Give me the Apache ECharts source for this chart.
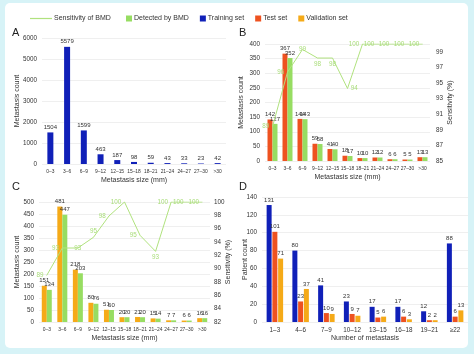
<!DOCTYPE html>
<html><head><meta charset="utf-8">
<script src="https://cdn.jsdelivr.net/npm/echarts@6/dist/echarts.min.js"></script>
<style>
html,body{margin:0;padding:0;background:#d7f3f7;}
#bg{position:absolute;left:5px;top:3px;width:463px;height:345px;background:#fff;border-radius:5px;}
#c{position:absolute;left:0;top:0;width:474px;height:354px;}
</style></head>
<body><div id="bg"></div><div id="c"></div>
<script>
// ---- data ----
const sizeCats = ['0–3','3–6','6–9','9–12','12–15','15–18','18–21','21–24','24–27','27–30','>30'];
const trainA = [1504,5579,1599,463,187,98,59,43,33,23,42];
const testB = [142,367,144,59,41,18,10,12,6,5,13];
const detB = [127,352,143,58,40,17,10,12,6,5,13];
const sensB = [89.4,96.4,99.3,98.2,98.2,94.3,100,100,100,100,100];
const valC = [151,481,218,80,51,20,21,15,7,6,16];
const detC = [134,447,203,76,50,20,20,14,7,6,16];
const sensC = [89,93.1,93.1,94.7,97.9,100,95,92.6,100,100,100];
const numCats = ['1–3','4–6','7–9','10–12','13–15','16–18','19–21','≥22'];
const trainD = [131,80,41,23,17,17,12,88];
const testD = [101,23,10,9,5,6,2,6];
const valD = [71,37,9,7,6,3,2,13];

// ---- styles ----
const FONT = 'Liberation Sans, Arial, sans-serif';
const BLUE = '#1020b8', RED = '#ee5220', ORANGE = '#f5aa18', GREEN = '#97dd62', LINE = '#b0e27e';
const txt = '#333';
const posB = ['left','left','inside','bottom','bottom','right','left','left','left','left','left'];
const posC = ['left','left','inside','top','left','left','left','bottom','left','left','left'];

const chart = echarts.init(document.getElementById('c'), null, {renderer:'canvas'});

function xAx(grid, data, name, fs){
  return {type:'category', gridIndex:grid, data:data, name:name, nameLocation:'middle', nameGap:13,
    nameMoveOverlap:false,
    nameTextStyle:{fontSize:7, color:txt, fontFamily:FONT},
    axisLine:{show:false}, axisTick:{show:false},
    axisLabel:{fontSize:fs, color:txt, fontFamily:FONT, margin:5, interval:0, hideOverlap:false}};
}
function yAx(grid, min, max, interval, name, gap, extra){
  return Object.assign({type:'value', gridIndex:grid, min:min, max:max, interval:interval, name:name,
    nameLocation:'middle', nameGap:gap, nameMoveOverlap:false,
    nameTextStyle:{fontSize:7, color:txt, fontFamily:FONT},
    axisLine:{show:false}, axisTick:{show:false},
    axisLabel:{fontSize:6.3, color:txt, fontFamily:FONT, margin:5, formatter:v=>String(v)},
    splitLine:{lineStyle:{color:'#ebebeb', width:0.8}}}, extra||{});
}
function barLabel(){ return {show:true, position:'top', fontSize:6, color:txt, fontFamily:FONT, distance:2}; }
function sensData(vals, pos){
  return vals.map((v,i)=>({value:v, label:{show:true, position:pos[i]}}));
}
function sensSeries(xi, yi, vals, pos){
  return {name:'Sensitivity of BMD', type:'line', xAxisIndex:xi, yAxisIndex:yi, data:sensData(vals,pos),
    symbol:'circle', symbolSize:0.5, showSymbol:true, lineStyle:{color:LINE, width:1},
    itemStyle:{color:LINE}, z:5,
    label:{show:true, fontSize:6.3, color:'#a8dc78', distance:3, fontFamily:FONT,
      formatter:p=>Math.round(p.value)}};
}

const option = {
  animation:false,
  textStyle:{fontFamily:FONT},
  legend:[
    {data:['Sensitivity of BMD'], left:30, top:15, padding:0, icon:'rect', itemWidth:22, itemHeight:1.2,
     textStyle:{fontSize:7, color:txt, fontFamily:FONT, padding:[0,0,0,-3]}},
    {data:['Detected by BMD','Training set','Test set','Validation set'], left:126, top:15, padding:0, icon:'rect',
     itemWidth:6, itemHeight:6, itemGap:11, textStyle:{fontSize:7, color:txt, fontFamily:FONT, padding:[0,0,0,-3]}}
  ],
  graphic:[
    {type:'text', left:12, top:27, style:{text:'A', fontSize:11, fill:'#222', fontFamily:FONT}},
    {type:'text', left:239, top:27, style:{text:'B', fontSize:11, fill:'#222', fontFamily:FONT}},
    {type:'text', left:12, top:181, style:{text:'C', fontSize:11, fill:'#222', fontFamily:FONT}},
    {type:'text', left:239, top:181, style:{text:'D', fontSize:11, fill:'#222', fontFamily:FONT}}
  ],
  grid:[
    {left:42, right:248, top:38, bottom:190},
    {left:265, right:44, top:44, bottom:193},
    {left:39, right:264, top:202, bottom:32},
    {left:262, right:6, top:197, bottom:32}
  ],
  xAxis:[
    xAx(0, sizeCats, 'Metastasis size (mm)', 4.9),
    xAx(1, sizeCats, 'Metastasis size (mm)', 4.9),
    xAx(2, sizeCats, 'Metastasis size (mm)', 4.9),
    xAx(3, numCats, 'Number of metastasis', 6.3)
  ],
  yAxis:[
    yAx(0, 0, 6000, 1000, 'Metastasis count', 21.5),
    yAx(1, 0, 400, 50, 'Metastasis count', 20.5),
    yAx(1, 85, 100, 2, 'Sensitivity (%)', 16.5, {position:'right', splitLine:{show:false},
        axisLabel:{fontSize:6.3, color:txt, fontFamily:FONT, margin:6, showMaxLabel:false}}),
    yAx(2, 0, 500, 50, 'Metastasis count', 18.5),
    yAx(2, 82, 100, 2, 'Sensitivity (%)', 15, {position:'right', splitLine:{show:false},
        axisLabel:{fontSize:6.3, color:txt, fontFamily:FONT, margin:4}}),
    yAx(3, 0, 140, 20, 'Patient count', 13.5)
  ],
  series:[
    {name:'Training set', type:'bar', xAxisIndex:0, yAxisIndex:0, data:trainA, barWidth:6,
     itemStyle:{color:BLUE}, label:barLabel()},
    {name:'Test set', type:'bar', xAxisIndex:1, yAxisIndex:1, data:testB, barWidth:5, barGap:'0%',
     itemStyle:{color:RED}, label:barLabel()},
    {name:'Detected by BMD', type:'bar', xAxisIndex:1, yAxisIndex:1, data:detB, barWidth:5, barGap:'0%',
     itemStyle:{color:GREEN}, label:barLabel()},
    sensSeries(1, 2, sensB, posB),
    {name:'Validation set', type:'bar', xAxisIndex:2, yAxisIndex:3, data:valC, barWidth:5, barGap:'0%',
     itemStyle:{color:ORANGE}, label:barLabel()},
    {name:'Detected by BMD', type:'bar', xAxisIndex:2, yAxisIndex:3, data:detC, barWidth:5, barGap:'0%',
     itemStyle:{color:GREEN}, label:barLabel()},
    sensSeries(2, 4, sensC, posC),
    {name:'Training set', type:'bar', xAxisIndex:3, yAxisIndex:5, data:trainD, barWidth:5, barGap:'15%',
     itemStyle:{color:BLUE}, label:barLabel()},
    {name:'Test set', type:'bar', xAxisIndex:3, yAxisIndex:5, data:testD, barWidth:5, barGap:'15%',
     itemStyle:{color:RED}, label:barLabel()},
    {name:'Validation set', type:'bar', xAxisIndex:3, yAxisIndex:5, data:valD, barWidth:5, barGap:'15%',
     itemStyle:{color:ORANGE}, label:barLabel()}
  ]
};
chart.setOption(option);
</script></body></html>
